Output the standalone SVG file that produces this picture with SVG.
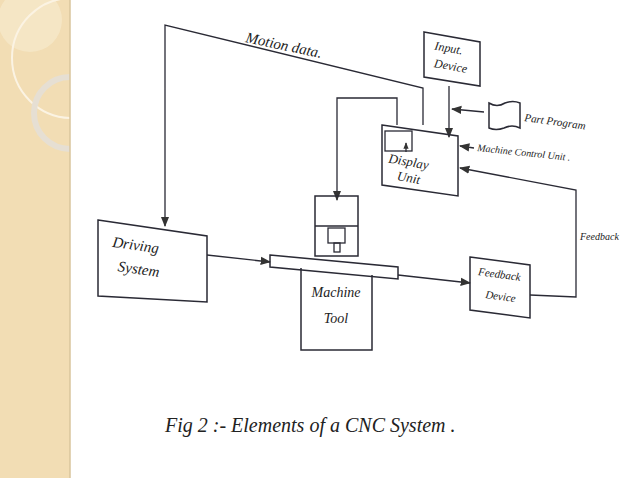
<svg xmlns="http://www.w3.org/2000/svg" width="638" height="478" viewBox="0 0 638 478">
<style>
.b{fill:none;stroke:#2a2a35;stroke-width:1.5}
.c{fill:none;stroke:#2a2a35;stroke-width:1.3}
.t{font-family:"Liberation Serif",serif;font-style:italic;fill:#222;}
</style>
<defs>
<marker id="a" viewBox="0 0 10 10" refX="9" refY="5" markerWidth="8" markerHeight="8" orient="auto"><path d="M0,1 L10,5 L0,9 z" fill="#333"/></marker>
<marker id="s" viewBox="0 0 10 10" refX="9" refY="5" markerWidth="5" markerHeight="5" orient="auto"><path d="M0,1 L10,5 L0,9 z" fill="#333"/></marker>
<clipPath id="cp"><rect x="0" y="0" width="70" height="478"/></clipPath>
</defs>
<rect width="638" height="478" fill="#fff"/>
<g id="sidebar">
<rect x="0" y="0" width="70" height="478" fill="#f2ddb4"/>
<g clip-path="url(#cp)">
<circle cx="30" cy="20" r="32" fill="#f7e9cc" opacity="0.7"/>
<circle cx="72" cy="58" r="60" fill="none" stroke="#fbf3e3" stroke-width="2"/>
<circle cx="70" cy="113" r="36" fill="none" stroke="#e6dfd3" stroke-width="6"/>
</g>
<line x1="70" y1="0" x2="70" y2="478" stroke="#d9c49c" stroke-width="1.5"/>
</g>
<g id="connectors">
<path class="c" d="M423,125 L423,88 L165,25 L165,226" marker-end="url(#a)"/>
<path class="c" d="M449,86 L449,137" marker-end="url(#a)"/>
<path class="c" d="M484,112 L452,109" marker-end="url(#a)"/>
<path class="c" d="M397,125 L397,98 L337,98 L337,200" marker-end="url(#a)"/>
<path class="c" d="M207,255 L270,262" marker-end="url(#a)"/>
<path class="c" d="M398,275 L470,283" marker-end="url(#a)"/>
<path class="c" d="M530,295 L576,297 L576,190 L460,168" marker-end="url(#a)"/>
<path class="c" d="M474,148 L460,146" marker-end="url(#a)"/>
<path class="c" d="M406,152 L406,143" stroke-width="1" marker-end="url(#s)"/>
</g>
<g id="motion-label"><text class="t" x="245" y="42" font-size="15" transform="rotate(12 245 42)">Motion data.</text></g>
<g id="input-device">
<path class="b" d="M424,32 L480,42 L480,86 L424,77 z"/>
<text class="t" x="448" y="52" font-size="12" text-anchor="middle" transform="rotate(10 448 52)">Input.</text>
<text class="t" x="450" y="70" font-size="12" text-anchor="middle" transform="rotate(10 450 70)">Device</text>
</g>
<g id="part-program">
<path class="b" d="M489,103 Q497,108 505,103 Q513,100 520,103 L520,128 Q512,124 504,128 Q496,131 489,128 z"/>
<text class="t" x="524" y="121" font-size="11" transform="rotate(8 524 121)">Part Program</text>
</g>
<g id="mcu">
<path class="b" d="M382,125 L458,136 L458,196 L382,185 z"/>
<rect class="c" x="385" y="131" width="27" height="20"/>
<text class="t" x="408" y="166" font-size="13" text-anchor="middle" transform="rotate(10 408 166)">Display</text>
<text class="t" x="408" y="182" font-size="13" text-anchor="middle" transform="rotate(10 408 182)">Unit</text>
<text class="t" x="477" y="151" font-size="10" transform="rotate(6 477 151)">Machine Control Unit .</text>
</g>
<g id="driving-system">
<path class="b" d="M98,220 L207,236 L207,302 L98,296 z"/>
<text class="t" x="135" y="250" font-size="15" text-anchor="middle" transform="rotate(8 135 250)">Driving</text>
<text class="t" x="138" y="274" font-size="15" text-anchor="middle" transform="rotate(8 138 274)">System</text>
</g>
<g id="machine-tool">
<rect class="b" x="315" y="196" width="43" height="60"/>
<line class="c" x1="315" y1="226" x2="358" y2="226"/>
<rect class="c" x="328" y="228" width="17" height="15"/>
<rect class="c" x="334" y="243" width="6" height="9"/>
<path class="b" d="M270,255 L398,267 L398,279 L270,267 z"/>
<path class="b" d="M301,268 L301,350 L372,350 L372,275"/>
<text class="t" x="336" y="297" font-size="14" text-anchor="middle">Machine</text>
<text class="t" x="336" y="323" font-size="14" text-anchor="middle">Tool</text>
</g>
<g id="feedback-device">
<path class="b" d="M470,257 L530,265 L530,318 L470,310 z"/>
<text class="t" x="499" y="278" font-size="11" text-anchor="middle" transform="rotate(8 499 278)">Feedback</text>
<text class="t" x="500" y="300" font-size="11" text-anchor="middle" transform="rotate(8 500 300)">Device</text>
</g>
<g id="feedback-label"><text class="t" x="580" y="240" font-size="10">Feedback</text></g>
<g id="caption"><text class="t" x="165" y="432" font-size="20">Fig 2 :-  Elements of a CNC System .</text></g>
</svg>
